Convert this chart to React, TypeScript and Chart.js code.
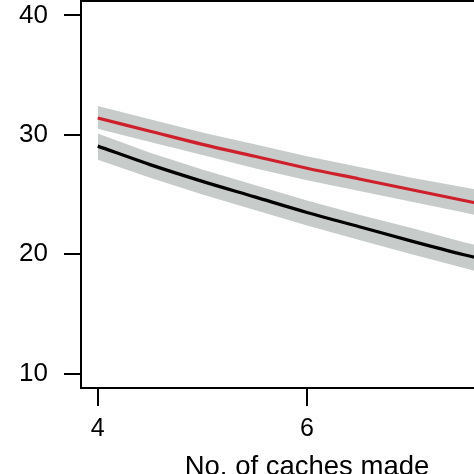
import React, { useEffect, useRef } from 'react';
import { Chart, registerables } from 'chart.js';

Chart.register(...registerables);

// Data
const xValues = [4, 4.5, 5, 5.5, 6, 6.5, 7, 7.5, 8];
const redMean = [31.4, 30.3, 29.2, 28.2, 27.2, 26.3, 25.4, 24.5, 23.6];
const redUpper = [32.4, 31.3, 30.2, 29.2, 28.2, 27.3, 26.4, 25.6, 24.8];
const redLower = [30.5, 29.4, 28.3, 27.2, 26.2, 25.3, 24.4, 23.5, 22.5];
const blackMean = [29.05, 27.5, 26.1, 24.8, 23.5, 22.3, 21.1, 19.95, 18.9];
const blackUpper = [30.1, 28.5, 27.1, 25.8, 24.5, 23.3, 22.2, 21.0, 20.0];
const blackLower = [27.9, 26.4, 25.0, 23.7, 22.4, 21.2, 20.0, 18.85, 17.7];
const yTicks = [10, 20, 30, 40];
const xTicks = [4, 6, 8];
const xTitle = 'No. of caches made';

const FONT = '"Liberation Sans", Arial, sans-serif';
const BAND = '#c7cccb';
const RED = '#cf1f2a';

const toPts = (ys: number[]) => xValues.map((x, i) => ({ x, y: ys[i] }));

const boxPlugin = {
  id: 'box',
  afterDraw(chart: any) {
    const { ctx, chartArea } = chart;
    ctx.save();
    ctx.strokeStyle = '#000';
    ctx.lineWidth = 2;
    ctx.strokeRect(chartArea.left, chartArea.top, chartArea.right - chartArea.left, chartArea.bottom - chartArea.top);
    ctx.restore();
  },
};

export default function App() {
  const ref = useRef<HTMLCanvasElement | null>(null);
  useEffect(() => {
    document.body.style.margin = '0';
    const canvas = ref.current!;
    const chart = new Chart(canvas, {
      type: 'line',
      data: {
        datasets: [
          { data: toPts(redUpper), order: 2, borderWidth: 0, pointRadius: 0, fill: '+1', backgroundColor: BAND, borderColor: 'transparent' },
          { data: toPts(redLower), order: 2, borderWidth: 0, pointRadius: 0, fill: false, borderColor: 'transparent' },
          { data: toPts(blackUpper), order: 2, borderWidth: 0, pointRadius: 0, fill: '+1', backgroundColor: BAND, borderColor: 'transparent' },
          { data: toPts(blackLower), order: 2, borderWidth: 0, pointRadius: 0, fill: false, borderColor: 'transparent' },
          { data: toPts(redMean), order: 0, borderWidth: 3.2, pointRadius: 0, fill: false, borderColor: RED, cubicInterpolationMode: 'monotone' },
          { data: toPts(blackMean), order: 0, borderWidth: 3.2, pointRadius: 0, fill: false, borderColor: '#000', cubicInterpolationMode: 'monotone' },
        ],
      },
      options: {
        animation: false,
        responsive: false,
        maintainAspectRatio: false,
        layout: { padding: { top: 1, right: 7, left: 0, bottom: 0 } },
        plugins: { legend: { display: false }, tooltip: { enabled: false } },
        scales: {
          x: {
            type: 'linear',
            min: 3.84,
            max: 8.16,
            afterBuildTicks: (s: any) => { s.ticks = xTicks.map((v) => ({ value: v })); },
            afterFit: (s: any) => { s.height = 86; s.paddingLeft = 0; s.paddingRight = 0; },
            grid: { drawOnChartArea: false, drawTicks: true, tickLength: 18, color: '#000', lineWidth: 2 },
            border: { display: true, color: '#000', width: 2 },
            ticks: { color: '#000', font: { family: FONT, size: 25 }, padding: 8, maxRotation: 0, autoSkip: false },
            title: { display: true, text: xTitle, color: '#000', font: { family: FONT, size: 27.5, lineHeight: 0.5 }, padding: 0 },
          },
          y: {
            type: 'linear',
            min: 8.8,
            max: 41.2,
            afterBuildTicks: (s: any) => { s.ticks = yTicks.map((v) => ({ value: v })); },
            afterFit: (s: any) => { s.width = 81; s.paddingTop = 0; s.paddingBottom = 0; },
            grid: { drawOnChartArea: false, drawTicks: true, tickLength: 17, color: '#000', lineWidth: 2 },
            border: { display: true, color: '#000', width: 2 },
            ticks: { color: '#000', font: { family: FONT, size: 26 }, padding: 16, autoSkip: false },
          },
        },
      },
      plugins: [boxPlugin],
    } as any);
    return () => chart.destroy();
  }, []);
  return (
    <div style={{ width: 474, height: 474, overflow: 'hidden', position: 'relative', background: '#fff' }}>
      <canvas ref={ref} width={540} height={474} style={{ display: 'block' }} />
    </div>
  );
}
